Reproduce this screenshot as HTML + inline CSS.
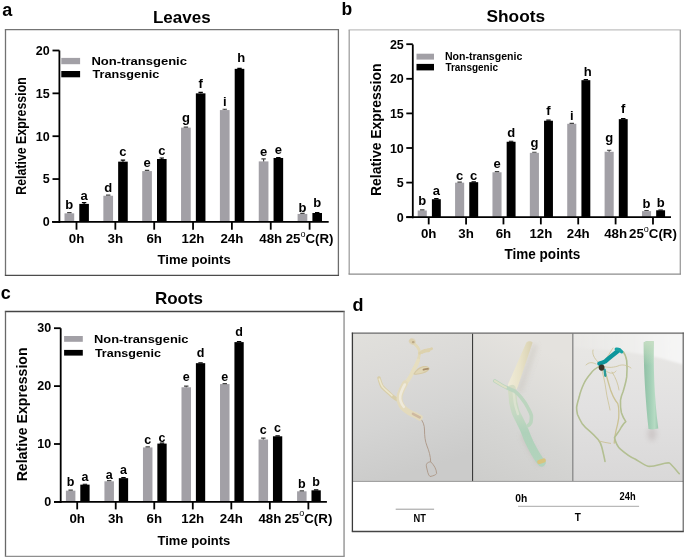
<!DOCTYPE html><html><head><meta charset="utf-8"><title>Figure</title><style>html,body{margin:0;padding:0;background:#fff;}svg{display:block;}</style></head><body>
<svg width="685" height="558" viewBox="0 0 685 558" font-family='"Liberation Sans", sans-serif'>
<rect width="685" height="558" fill="#fff"/>
<text x="2.2" y="16" font-size="18" text-anchor="start" font-weight="bold" fill="#000" >a</text>
<text x="341.5" y="14.7" font-size="17.5" text-anchor="start" font-weight="bold" fill="#000" >b</text>
<text x="0.8" y="299.3" font-size="18" text-anchor="start" font-weight="bold" fill="#000" >c</text>
<text x="352.6" y="310.8" font-size="18" text-anchor="start" font-weight="bold" fill="#000" >d</text>
<path d="M4.85 29.6H339.04999999999995" stroke="#747474" stroke-width="1.3"/>
<path d="M5.5 29.6V275.4" stroke="#727272" stroke-width="1.3"/>
<path d="M338.4 29.6V275.4" stroke="#6c6c6c" stroke-width="1.3"/>
<path d="M4.85 275.4H339.04999999999995" stroke="#4c4c4c" stroke-width="1.3"/>
<text x="181.8" y="23.3" font-size="17" text-anchor="middle" font-weight="bold" fill="#000" >Leaves</text>
<rect x="64.50" y="213.33" width="9.70" height="8.57" fill="#a2a0a6"/>
<rect x="79.30" y="203.90" width="9.60" height="18.00" fill="#000"/>
<path d="M67.15 212.53H71.55M69.35 212.53V213.33" stroke="#444" stroke-width="1.2" fill="none"/>
<path d="M81.90 202.70H86.30M84.10 202.70V203.90" stroke="#000" stroke-width="1.2" fill="none"/>
<text x="69.35" y="209.40" font-size="13" text-anchor="middle" font-weight="bold" fill="#000" >b</text>
<text x="84.10" y="199.70" font-size="13" text-anchor="middle" font-weight="bold" fill="#000" >a</text>
<rect x="103.35" y="195.76" width="9.70" height="26.14" fill="#a2a0a6"/>
<rect x="118.15" y="161.65" width="9.60" height="60.25" fill="#000"/>
<path d="M106.00 195.16H110.40M108.20 195.16V195.76" stroke="#444" stroke-width="1.2" fill="none"/>
<path d="M120.75 160.05H125.15M122.95 160.05V161.65" stroke="#000" stroke-width="1.2" fill="none"/>
<text x="108.20" y="191.70" font-size="13" text-anchor="middle" font-weight="bold" fill="#000" >d</text>
<text x="122.95" y="155.70" font-size="13" text-anchor="middle" font-weight="bold" fill="#000" >c</text>
<rect x="142.20" y="171.08" width="9.70" height="50.82" fill="#a2a0a6"/>
<rect x="157.00" y="159.00" width="9.60" height="62.90" fill="#000"/>
<path d="M144.85 170.28H149.25M147.05 170.28V171.08" stroke="#444" stroke-width="1.2" fill="none"/>
<path d="M159.60 158.00H164.00M161.80 158.00V159.00" stroke="#000" stroke-width="1.2" fill="none"/>
<text x="147.05" y="167.00" font-size="13" text-anchor="middle" font-weight="bold" fill="#000" >e</text>
<text x="161.80" y="155.30" font-size="13" text-anchor="middle" font-weight="bold" fill="#000" >c</text>
<rect x="181.05" y="127.63" width="9.70" height="94.27" fill="#a2a0a6"/>
<rect x="195.85" y="93.35" width="9.60" height="128.55" fill="#000"/>
<path d="M183.70 127.03H188.10M185.90 127.03V127.63" stroke="#444" stroke-width="1.2" fill="none"/>
<path d="M198.45 92.35H202.85M200.65 92.35V93.35" stroke="#000" stroke-width="1.2" fill="none"/>
<text x="185.90" y="121.50" font-size="13" text-anchor="middle" font-weight="bold" fill="#000" >g</text>
<text x="200.65" y="87.50" font-size="13" text-anchor="middle" font-weight="bold" fill="#000" >f</text>
<rect x="219.90" y="110.06" width="9.70" height="111.84" fill="#a2a0a6"/>
<rect x="234.70" y="68.84" width="9.60" height="153.06" fill="#000"/>
<path d="M222.55 109.26H226.95M224.75 109.26V110.06" stroke="#444" stroke-width="1.2" fill="none"/>
<path d="M237.30 68.34H241.70M239.50 68.34V68.84" stroke="#000" stroke-width="1.2" fill="none"/>
<text x="224.75" y="106.00" font-size="13" text-anchor="middle" font-weight="bold" fill="#000" >i</text>
<text x="241.30" y="62.40" font-size="13" text-anchor="middle" font-weight="bold" fill="#000" >h</text>
<rect x="258.75" y="161.40" width="9.70" height="60.50" fill="#a2a0a6"/>
<rect x="273.55" y="157.97" width="9.60" height="63.93" fill="#000"/>
<path d="M261.40 158.90H265.80M263.60 158.90V161.40" stroke="#444" stroke-width="1.2" fill="none"/>
<path d="M276.15 157.57H280.55M278.35 157.57V157.97" stroke="#000" stroke-width="1.2" fill="none"/>
<text x="263.60" y="156.30" font-size="13" text-anchor="middle" font-weight="bold" fill="#000" >e</text>
<text x="278.35" y="154.20" font-size="13" text-anchor="middle" font-weight="bold" fill="#000" >e</text>
<rect x="297.60" y="213.93" width="9.70" height="7.97" fill="#a2a0a6"/>
<rect x="312.40" y="212.99" width="9.60" height="8.91" fill="#000"/>
<path d="M300.25 213.33H304.65M302.45 213.33V213.93" stroke="#444" stroke-width="1.2" fill="none"/>
<path d="M315.00 212.59H319.40M317.20 212.59V212.99" stroke="#000" stroke-width="1.2" fill="none"/>
<text x="302.45" y="211.50" font-size="13" text-anchor="middle" font-weight="bold" fill="#000" >b</text>
<text x="317.20" y="206.80" font-size="13" text-anchor="middle" font-weight="bold" fill="#000" >b</text>
<path d="M59.4 50.6V222.9M52 221.9H328.7" stroke="#000" stroke-width="1.8" fill="none"/>
<path d="M52.5 221.90H59.4" stroke="#000" stroke-width="1.8"/>
<text x="49.6" y="226.20" font-size="12.5" text-anchor="end" font-weight="bold" fill="#000" >0</text>
<path d="M52.5 179.05H59.4" stroke="#000" stroke-width="1.8"/>
<text x="49.6" y="183.35" font-size="12.5" text-anchor="end" font-weight="bold" fill="#000" >5</text>
<path d="M52.5 136.20H59.4" stroke="#000" stroke-width="1.8"/>
<text x="49.6" y="140.50" font-size="12.5" text-anchor="end" font-weight="bold" fill="#000" >10</text>
<path d="M52.5 93.35H59.4" stroke="#000" stroke-width="1.8"/>
<text x="49.6" y="97.65" font-size="12.5" text-anchor="end" font-weight="bold" fill="#000" >15</text>
<path d="M52.5 50.50H59.4" stroke="#000" stroke-width="1.8"/>
<text x="49.6" y="54.80" font-size="12.5" text-anchor="end" font-weight="bold" fill="#000" >20</text>
<path d="M76.50 221.9V229.70000000000002" stroke="#000" stroke-width="1.8"/>
<text x="76.50" y="243" font-size="13.3" text-anchor="middle" font-weight="bold" fill="#000" >0h</text>
<path d="M115.35 221.9V229.70000000000002" stroke="#000" stroke-width="1.8"/>
<text x="115.35" y="243" font-size="13.3" text-anchor="middle" font-weight="bold" fill="#000" >3h</text>
<path d="M154.20 221.9V229.70000000000002" stroke="#000" stroke-width="1.8"/>
<text x="154.20" y="243" font-size="13.3" text-anchor="middle" font-weight="bold" fill="#000" >6h</text>
<path d="M193.05 221.9V229.70000000000002" stroke="#000" stroke-width="1.8"/>
<text x="193.05" y="243" font-size="13.3" text-anchor="middle" font-weight="bold" fill="#000" >12h</text>
<path d="M231.90 221.9V229.70000000000002" stroke="#000" stroke-width="1.8"/>
<text x="231.90" y="243" font-size="13.3" text-anchor="middle" font-weight="bold" fill="#000" >24h</text>
<path d="M270.75 221.9V229.70000000000002" stroke="#000" stroke-width="1.8"/>
<text x="270.75" y="243" font-size="13.3" text-anchor="middle" font-weight="bold" fill="#000" >48h</text>
<path d="M309.60 221.9V229.70000000000002" stroke="#000" stroke-width="1.8"/>
<text x="309.60" y="243" font-size="13.3" text-anchor="middle" font-weight="bold" fill="#000" >25<tspan font-size="9" font-weight="normal" dy="-6.5">o</tspan><tspan dy="6.5">C(R)</tspan></text>
<text x="194.1" y="263.9" font-size="12.3" text-anchor="middle" font-weight="bold" fill="#000" textLength="73.2" lengthAdjust="spacingAndGlyphs">Time points</text>
<text transform="translate(26.2 136) rotate(-90)" x="0" y="0" font-size="13.8" text-anchor="middle" font-weight="bold" textLength="117.6" lengthAdjust="spacingAndGlyphs">Relative Expression</text>
<rect x="61.3" y="57.9" width="18.799999999999997" height="6.300000000000004" fill="#a2a0a6"/>
<rect x="61.3" y="71" width="18.799999999999997" height="6.299999999999997" fill="#000"/>
<text x="91.4" y="64.8" font-size="11.4" text-anchor="start" font-weight="bold" fill="#000" textLength="95.6" lengthAdjust="spacingAndGlyphs">Non-transgenic</text>
<text x="92.6" y="78.1" font-size="11.4" text-anchor="start" font-weight="bold" fill="#000" textLength="66.6" lengthAdjust="spacingAndGlyphs">Transgenic</text>
<path d="M348.55 29.9H680.9499999999999" stroke="#c0c0c0" stroke-width="1.3"/>
<path d="M349.2 29.9V274.2" stroke="#a0a0a0" stroke-width="1.3"/>
<path d="M680.3 29.9V274.2" stroke="#9c9c9c" stroke-width="1.3"/>
<path d="M348.55 274.2H680.9499999999999" stroke="#8c8c8c" stroke-width="1.3"/>
<text x="515.8" y="22.3" font-size="17.3" text-anchor="middle" font-weight="bold" fill="#000" >Shoots</text>
<rect x="417.70" y="210.49" width="9.10" height="6.71" fill="#a2a0a6"/>
<rect x="431.90" y="199.21" width="8.90" height="17.99" fill="#000"/>
<path d="M420.05 209.89H424.45M422.25 209.89V210.49" stroke="#444" stroke-width="1.2" fill="none"/>
<path d="M434.15 198.71H438.55M436.35 198.71V199.21" stroke="#000" stroke-width="1.2" fill="none"/>
<text x="422.25" y="205.00" font-size="13" text-anchor="middle" font-weight="bold" fill="#000" >b</text>
<text x="436.35" y="194.90" font-size="13" text-anchor="middle" font-weight="bold" fill="#000" >a</text>
<rect x="455.08" y="182.67" width="9.10" height="34.53" fill="#a2a0a6"/>
<rect x="469.28" y="182.18" width="8.90" height="35.02" fill="#000"/>
<path d="M457.43 182.07H461.83M459.63 182.07V182.67" stroke="#444" stroke-width="1.2" fill="none"/>
<path d="M471.53 181.78H475.93M473.73 181.78V182.18" stroke="#000" stroke-width="1.2" fill="none"/>
<text x="459.63" y="179.70" font-size="13" text-anchor="middle" font-weight="bold" fill="#000" >c</text>
<text x="473.73" y="179.70" font-size="13" text-anchor="middle" font-weight="bold" fill="#000" >c</text>
<rect x="492.46" y="172.29" width="9.10" height="44.91" fill="#a2a0a6"/>
<rect x="506.66" y="141.77" width="8.90" height="75.43" fill="#000"/>
<path d="M494.81 171.69H499.21M497.01 171.69V172.29" stroke="#444" stroke-width="1.2" fill="none"/>
<path d="M508.91 141.27H513.31M511.11 141.27V141.77" stroke="#000" stroke-width="1.2" fill="none"/>
<text x="497.01" y="167.70" font-size="13" text-anchor="middle" font-weight="bold" fill="#000" >e</text>
<text x="511.11" y="136.80" font-size="13" text-anchor="middle" font-weight="bold" fill="#000" >d</text>
<rect x="529.84" y="152.84" width="9.10" height="64.36" fill="#a2a0a6"/>
<rect x="544.04" y="120.74" width="8.90" height="96.46" fill="#000"/>
<path d="M532.19 152.24H536.59M534.39 152.24V152.84" stroke="#444" stroke-width="1.2" fill="none"/>
<path d="M546.29 120.14H550.69M548.49 120.14V120.74" stroke="#000" stroke-width="1.2" fill="none"/>
<text x="534.39" y="146.50" font-size="13" text-anchor="middle" font-weight="bold" fill="#000" >g</text>
<text x="548.49" y="115.10" font-size="13" text-anchor="middle" font-weight="bold" fill="#000" >f</text>
<rect x="567.22" y="123.78" width="9.10" height="93.42" fill="#a2a0a6"/>
<rect x="581.42" y="80.18" width="8.90" height="137.02" fill="#000"/>
<path d="M569.57 123.28H573.97M571.77 123.28V123.78" stroke="#444" stroke-width="1.2" fill="none"/>
<path d="M583.67 79.68H588.07M585.87 79.68V80.18" stroke="#000" stroke-width="1.2" fill="none"/>
<text x="571.77" y="120.00" font-size="13" text-anchor="middle" font-weight="bold" fill="#000" >i</text>
<text x="587.67" y="75.90" font-size="13" text-anchor="middle" font-weight="bold" fill="#000" >h</text>
<rect x="604.60" y="151.74" width="9.10" height="65.46" fill="#a2a0a6"/>
<rect x="618.80" y="119.14" width="8.90" height="98.06" fill="#000"/>
<path d="M606.95 150.24H611.35M609.15 150.24V151.74" stroke="#444" stroke-width="1.2" fill="none"/>
<path d="M621.05 118.54H625.45M623.25 118.54V119.14" stroke="#000" stroke-width="1.2" fill="none"/>
<text x="609.15" y="142.40" font-size="13" text-anchor="middle" font-weight="bold" fill="#000" >g</text>
<text x="623.25" y="112.50" font-size="13" text-anchor="middle" font-weight="bold" fill="#000" >f</text>
<rect x="641.98" y="211.11" width="9.10" height="6.09" fill="#a2a0a6"/>
<rect x="656.18" y="210.28" width="8.90" height="6.92" fill="#000"/>
<path d="M644.33 210.51H648.73M646.53 210.51V211.11" stroke="#444" stroke-width="1.2" fill="none"/>
<path d="M658.43 209.98H662.83M660.63 209.98V210.28" stroke="#000" stroke-width="1.2" fill="none"/>
<text x="646.53" y="208.00" font-size="13" text-anchor="middle" font-weight="bold" fill="#000" >b</text>
<text x="660.63" y="207.20" font-size="13" text-anchor="middle" font-weight="bold" fill="#000" >b</text>
<path d="M412.8 44.4V218.2M406.3 217.2H671" stroke="#000" stroke-width="1.8" fill="none"/>
<path d="M406.3 217.20H412.8" stroke="#000" stroke-width="1.8"/>
<text x="403.8" y="221.80" font-size="12.5" text-anchor="end" font-weight="bold" fill="#000" >0</text>
<path d="M406.3 182.60H412.8" stroke="#000" stroke-width="1.8"/>
<text x="403.8" y="187.20" font-size="12.5" text-anchor="end" font-weight="bold" fill="#000" >5</text>
<path d="M406.3 148.00H412.8" stroke="#000" stroke-width="1.8"/>
<text x="403.8" y="152.60" font-size="12.5" text-anchor="end" font-weight="bold" fill="#000" >10</text>
<path d="M406.3 113.40H412.8" stroke="#000" stroke-width="1.8"/>
<text x="403.8" y="118.00" font-size="12.5" text-anchor="end" font-weight="bold" fill="#000" >15</text>
<path d="M406.3 78.80H412.8" stroke="#000" stroke-width="1.8"/>
<text x="403.8" y="83.40" font-size="12.5" text-anchor="end" font-weight="bold" fill="#000" >20</text>
<path d="M406.3 44.20H412.8" stroke="#000" stroke-width="1.8"/>
<text x="403.8" y="48.80" font-size="12.5" text-anchor="end" font-weight="bold" fill="#000" >25</text>
<path d="M428.70 217.2V224.39999999999998" stroke="#000" stroke-width="1.8"/>
<text x="428.70" y="238" font-size="13.3" text-anchor="middle" font-weight="bold" fill="#000" >0h</text>
<path d="M466.08 217.2V224.39999999999998" stroke="#000" stroke-width="1.8"/>
<text x="466.08" y="238" font-size="13.3" text-anchor="middle" font-weight="bold" fill="#000" >3h</text>
<path d="M503.46 217.2V224.39999999999998" stroke="#000" stroke-width="1.8"/>
<text x="503.46" y="238" font-size="13.3" text-anchor="middle" font-weight="bold" fill="#000" >6h</text>
<path d="M540.84 217.2V224.39999999999998" stroke="#000" stroke-width="1.8"/>
<text x="540.84" y="238" font-size="13.3" text-anchor="middle" font-weight="bold" fill="#000" >12h</text>
<path d="M578.22 217.2V224.39999999999998" stroke="#000" stroke-width="1.8"/>
<text x="578.22" y="238" font-size="13.3" text-anchor="middle" font-weight="bold" fill="#000" >24h</text>
<path d="M615.60 217.2V224.39999999999998" stroke="#000" stroke-width="1.8"/>
<text x="615.60" y="238" font-size="13.3" text-anchor="middle" font-weight="bold" fill="#000" >48h</text>
<path d="M652.98 217.2V224.39999999999998" stroke="#000" stroke-width="1.8"/>
<text x="652.98" y="238" font-size="13.3" text-anchor="middle" font-weight="bold" fill="#000" >25<tspan font-size="9" font-weight="normal" dy="-6.5">o</tspan><tspan dy="6.5">C(R)</tspan></text>
<text x="542.35" y="258.6" font-size="14" text-anchor="middle" font-weight="bold" fill="#000" textLength="75.7" lengthAdjust="spacingAndGlyphs">Time points</text>
<text transform="translate(380.5 129.8) rotate(-90)" x="0" y="0" font-size="14.6" text-anchor="middle" font-weight="bold" textLength="132.5" lengthAdjust="spacingAndGlyphs">Relative Expression</text>
<rect x="416.5" y="53.7" width="17.5" height="5.899999999999999" fill="#a2a0a6"/>
<rect x="416.5" y="63.9" width="17.5" height="6.500000000000007" fill="#000"/>
<text x="444.9" y="60.1" font-size="11" text-anchor="start" font-weight="bold" fill="#000" textLength="77.4" lengthAdjust="spacingAndGlyphs">Non-transgenic</text>
<text x="445.4" y="70.7" font-size="11" text-anchor="start" font-weight="bold" fill="#000" textLength="52.6" lengthAdjust="spacingAndGlyphs">Transgenic</text>
<path d="M4.85 311.5H344.7" stroke="#444444" stroke-width="1.3"/>
<path d="M5.5 311.5V556.3" stroke="#686868" stroke-width="1.3"/>
<path d="M344.05 311.5V556.3" stroke="#8a8a8a" stroke-width="1.3"/>
<path d="M4.85 556.3H344.7" stroke="#8e8e8e" stroke-width="1.3"/>
<text x="179" y="304" font-size="17" text-anchor="middle" font-weight="bold" fill="#000" >Roots</text>
<rect x="65.90" y="490.67" width="9.50" height="11.23" fill="#a2a0a6"/>
<rect x="80.30" y="484.65" width="9.30" height="17.25" fill="#000"/>
<path d="M68.45 490.07H72.85M70.65 490.07V490.67" stroke="#444" stroke-width="1.2" fill="none"/>
<path d="M82.75 484.25H87.15M84.95 484.25V484.65" stroke="#000" stroke-width="1.2" fill="none"/>
<text x="70.65" y="486.10" font-size="12.5" text-anchor="middle" font-weight="bold" fill="#000" >b</text>
<text x="84.95" y="481.30" font-size="12.5" text-anchor="middle" font-weight="bold" fill="#000" >a</text>
<rect x="104.43" y="481.29" width="9.50" height="20.61" fill="#a2a0a6"/>
<rect x="118.83" y="478.16" width="9.30" height="23.74" fill="#000"/>
<path d="M106.98 480.69H111.38M109.18 480.69V481.29" stroke="#444" stroke-width="1.2" fill="none"/>
<path d="M121.28 477.66H125.68M123.48 477.66V478.16" stroke="#000" stroke-width="1.2" fill="none"/>
<text x="109.18" y="478.50" font-size="12.5" text-anchor="middle" font-weight="bold" fill="#000" >a</text>
<text x="123.48" y="474.00" font-size="12.5" text-anchor="middle" font-weight="bold" fill="#000" >a</text>
<rect x="142.96" y="447.42" width="9.50" height="54.48" fill="#a2a0a6"/>
<rect x="157.36" y="443.59" width="9.30" height="58.31" fill="#000"/>
<path d="M145.51 446.82H149.91M147.71 446.82V447.42" stroke="#444" stroke-width="1.2" fill="none"/>
<path d="M159.81 443.19H164.21M162.01 443.19V443.59" stroke="#000" stroke-width="1.2" fill="none"/>
<text x="147.71" y="444.20" font-size="12.5" text-anchor="middle" font-weight="bold" fill="#000" >c</text>
<text x="162.01" y="442.40" font-size="12.5" text-anchor="middle" font-weight="bold" fill="#000" >c</text>
<rect x="181.49" y="387.26" width="9.50" height="114.64" fill="#a2a0a6"/>
<rect x="195.89" y="363.17" width="9.30" height="138.73" fill="#000"/>
<path d="M184.04 386.06H188.44M186.24 386.06V387.26" stroke="#444" stroke-width="1.2" fill="none"/>
<path d="M198.34 362.77H202.74M200.54 362.77V363.17" stroke="#000" stroke-width="1.2" fill="none"/>
<text x="186.24" y="381.00" font-size="12.5" text-anchor="middle" font-weight="bold" fill="#000" >e</text>
<text x="200.54" y="357.10" font-size="12.5" text-anchor="middle" font-weight="bold" fill="#000" >d</text>
<rect x="220.02" y="384.07" width="9.50" height="117.83" fill="#a2a0a6"/>
<rect x="234.42" y="342.10" width="9.30" height="159.80" fill="#000"/>
<path d="M222.57 383.57H226.97M224.77 383.57V384.07" stroke="#444" stroke-width="1.2" fill="none"/>
<path d="M236.87 341.50H241.27M239.07 341.50V342.10" stroke="#000" stroke-width="1.2" fill="none"/>
<text x="224.77" y="381.00" font-size="12.5" text-anchor="middle" font-weight="bold" fill="#000" >e</text>
<text x="239.07" y="335.60" font-size="12.5" text-anchor="middle" font-weight="bold" fill="#000" >d</text>
<rect x="258.55" y="439.48" width="9.50" height="62.42" fill="#a2a0a6"/>
<rect x="272.95" y="436.30" width="9.30" height="65.60" fill="#000"/>
<path d="M261.10 438.18H265.50M263.30 438.18V439.48" stroke="#444" stroke-width="1.2" fill="none"/>
<path d="M275.40 435.90H279.80M277.60 435.90V436.30" stroke="#000" stroke-width="1.2" fill="none"/>
<text x="263.30" y="434.40" font-size="12.5" text-anchor="middle" font-weight="bold" fill="#000" >c</text>
<text x="277.60" y="432.40" font-size="12.5" text-anchor="middle" font-weight="bold" fill="#000" >c</text>
<rect x="297.08" y="491.30" width="9.50" height="10.60" fill="#a2a0a6"/>
<rect x="311.48" y="490.32" width="9.30" height="11.58" fill="#000"/>
<path d="M299.63 490.80H304.03M301.83 490.80V491.30" stroke="#444" stroke-width="1.2" fill="none"/>
<path d="M313.93 489.92H318.33M316.13 489.92V490.32" stroke="#000" stroke-width="1.2" fill="none"/>
<text x="301.83" y="488.10" font-size="12.5" text-anchor="middle" font-weight="bold" fill="#000" >b</text>
<text x="316.13" y="486.30" font-size="12.5" text-anchor="middle" font-weight="bold" fill="#000" >b</text>
<path d="M60.7 328.2V502.9M54 501.9H326.9" stroke="#000" stroke-width="1.8" fill="none"/>
<path d="M54 501.90H60.7" stroke="#000" stroke-width="1.8"/>
<text x="51.2" y="506.10" font-size="12.5" text-anchor="end" font-weight="bold" fill="#000" >0</text>
<path d="M54 444.00H60.7" stroke="#000" stroke-width="1.8"/>
<text x="51.2" y="448.20" font-size="12.5" text-anchor="end" font-weight="bold" fill="#000" >10</text>
<path d="M54 386.10H60.7" stroke="#000" stroke-width="1.8"/>
<text x="51.2" y="390.30" font-size="12.5" text-anchor="end" font-weight="bold" fill="#000" >20</text>
<path d="M54 328.20H60.7" stroke="#000" stroke-width="1.8"/>
<text x="51.2" y="332.40" font-size="12.5" text-anchor="end" font-weight="bold" fill="#000" >30</text>
<path d="M77.20 501.9V509.4" stroke="#000" stroke-width="1.8"/>
<text x="77.20" y="522.7" font-size="13.3" text-anchor="middle" font-weight="bold" fill="#000" >0h</text>
<path d="M115.73 501.9V509.4" stroke="#000" stroke-width="1.8"/>
<text x="115.73" y="522.7" font-size="13.3" text-anchor="middle" font-weight="bold" fill="#000" >3h</text>
<path d="M154.26 501.9V509.4" stroke="#000" stroke-width="1.8"/>
<text x="154.26" y="522.7" font-size="13.3" text-anchor="middle" font-weight="bold" fill="#000" >6h</text>
<path d="M192.79 501.9V509.4" stroke="#000" stroke-width="1.8"/>
<text x="192.79" y="522.7" font-size="13.3" text-anchor="middle" font-weight="bold" fill="#000" >12h</text>
<path d="M231.32 501.9V509.4" stroke="#000" stroke-width="1.8"/>
<text x="231.32" y="522.7" font-size="13.3" text-anchor="middle" font-weight="bold" fill="#000" >24h</text>
<path d="M269.85 501.9V509.4" stroke="#000" stroke-width="1.8"/>
<text x="269.85" y="522.7" font-size="13.3" text-anchor="middle" font-weight="bold" fill="#000" >48h</text>
<path d="M308.38 501.9V509.4" stroke="#000" stroke-width="1.8"/>
<text x="308.38" y="522.7" font-size="13.3" text-anchor="middle" font-weight="bold" fill="#000" >25<tspan font-size="9" font-weight="normal" dy="-6.5">o</tspan><tspan dy="6.5">C(R)</tspan></text>
<text x="193.9" y="544.7" font-size="12.3" text-anchor="middle" font-weight="bold" fill="#000" textLength="72.7" lengthAdjust="spacingAndGlyphs">Time points</text>
<text transform="translate(27.1 414.4) rotate(-90)" x="0" y="0" font-size="15.2" text-anchor="middle" font-weight="bold" textLength="133.8" lengthAdjust="spacingAndGlyphs">Relative Expression</text>
<rect x="64.1" y="336" width="18.700000000000003" height="5.800000000000011" fill="#a2a0a6"/>
<rect x="64.1" y="349.9" width="18.700000000000003" height="5.7000000000000455" fill="#000"/>
<text x="94" y="342.8" font-size="11.4" text-anchor="start" font-weight="bold" fill="#000" textLength="94.5" lengthAdjust="spacingAndGlyphs">Non-transgenic</text>
<text x="94.9" y="356.8" font-size="11.4" text-anchor="start" font-weight="bold" fill="#000" textLength="66" lengthAdjust="spacingAndGlyphs">Transgenic</text>
<defs>
<linearGradient id="bg1" x1="0" y1="0" x2="0.25" y2="1"><stop offset="0" stop-color="#e1e0dc"/><stop offset="0.35" stop-color="#dbdad8"/><stop offset="0.65" stop-color="#d4d4d3"/><stop offset="1" stop-color="#cbcbca"/></linearGradient>
<linearGradient id="bg2" x1="0.3" y1="0" x2="0" y2="1"><stop offset="0" stop-color="#e4e2de"/><stop offset="0.3" stop-color="#dddcd9"/><stop offset="0.55" stop-color="#d6d6d4"/><stop offset="1" stop-color="#cdcdcb"/></linearGradient>
<linearGradient id="bg3" x1="0" y1="0" x2="0" y2="1"><stop offset="0" stop-color="#e9e8e5"/><stop offset="0.5" stop-color="#e2e1e1"/><stop offset="1" stop-color="#d9d8d8"/></linearGradient>
<linearGradient id="cyl" x1="0" y1="0" x2="1" y2="0"><stop offset="0" stop-color="#8fc0a5"/><stop offset="0.45" stop-color="#a3cfb6"/><stop offset="0.75" stop-color="#b6dbc3"/><stop offset="1" stop-color="#9cc8b0"/></linearGradient>
<linearGradient id="cyltop" x1="0" y1="0" x2="0" y2="1"><stop offset="0" stop-color="#c9dfc4" stop-opacity="0.9"/><stop offset="1" stop-color="#c9dfc4" stop-opacity="0"/></linearGradient>
<filter id="soft" x="-20%" y="-20%" width="140%" height="140%"><feGaussianBlur stdDeviation="0.5"/></filter>
<filter id="shad" x="-50%" y="-50%" width="200%" height="200%"><feGaussianBlur stdDeviation="2.5"/></filter>
</defs>
<g id="pd">
<rect x="353" y="333.5" width="119.5" height="148" fill="url(#bg1)"/>
<rect x="473" y="333.5" width="99.6" height="148" fill="url(#bg2)"/>
<rect x="573.2" y="333.5" width="110" height="148" fill="url(#bg3)"/>
<linearGradient id="wr" x1="0" y1="0" x2="1" y2="0"><stop offset="0" stop-color="#f0efed" stop-opacity="0.15"/><stop offset="0.5" stop-color="#f3f3f2" stop-opacity="0.6"/><stop offset="0.75" stop-color="#f4f4f3" stop-opacity="0.9"/><stop offset="1" stop-color="#f6f6f6" stop-opacity="1"/></linearGradient>
<filter id="blur15" x="-10%" y="-10%" width="120%" height="120%"><feGaussianBlur stdDeviation="1.2"/></filter>
<path d="M573.2 333.5H683.2V364.5L660 358L640 354L620 351L573.2 347Z" fill="url(#wr)" filter="url(#blur15)"/>
<path d="M472.6 333.5V481.3" stroke="#2a2a2a" stroke-width="1"/>
<path d="M572.8 333.5V481.3" stroke="#8a8a8a" stroke-width="1.4"/>
<path d="M353 481.4H683.2" stroke="#9a9a9a" stroke-width="1"/>
<g filter="url(#soft)" stroke-linecap="round" stroke-linejoin="round" fill="none">
<path d="M419.7 417.6C423 421 424.5 425 424.5 430C424.6 436 425 441 427 446C429 451 430.5 456 430.7 461.8C428 462 425.5 463.5 426.5 467C427.5 471 428 475 430 476.5C433 476 436 475 436.6 473.5C436.5 469 434 465 430.7 461.8" stroke="#ac9686" stroke-width="0.9"/>
<path d="M379 378C380 381 380.5 384 382 386.5C385 390 389 393 392 396C394.5 398 396.5 399.5 399 400.5" stroke="#d8cea9" stroke-width="3.6"/>
<path d="M379.3 379C380.3 382 381 384.5 382.5 386.8C385.5 390 389 393 392 395.6" stroke="#ece6cc" stroke-width="1.6"/>
<path d="M414.6 344.2C417.5 346.5 419.4 349 419.6 352.5C419.4 356 418.8 358 418.1 360.5C417 363.5 416.3 365 415.4 366.5C413.5 370 412 373 410.7 376C408.5 380 406 383 403.9 385.4" stroke="#e2d9b8" stroke-width="2.8"/>
<path d="M418.1 360.5C417 363.5 416.3 365 415.4 366.5C413.5 370 412 373 410.7 376C408.5 380 406 383 403.9 385.4" stroke="#e6dec0" stroke-width="3.8"/>
<path d="M405 383.5C402.5 388 400.5 392 399.6 396C399 400 400 404 403.5 408C407 411.5 412 414 416 415.5L419.7 417.6" stroke="#e3dabc" stroke-width="6"/>
<path d="M404.8 384.5C402.6 388.5 400.9 392 400.2 396C399.8 399.5 400.7 403 403.8 406.8" stroke="#efeadb" stroke-width="2.6"/>
<path d="M413 413.8C415.5 415 417.5 416 419.7 417.4" stroke="#cfb9a0" stroke-width="2.6"/>
<path d="M419.6 353.2C422 352 424 351 426 350.6C428 350 430 349.4 431.6 348.8" stroke="#dcd1ad" stroke-width="2.8"/>
<path d="M422.5 351.8C424.5 350.4 426.5 350.2 428.5 350.3" stroke="#ddd2ae" stroke-width="3.8"/>
<path d="M414 374C416 370.5 419.5 367.5 423.5 366.6C426.5 366.1 428.6 367 429.2 368.6C427.5 371.2 424 373 419.5 373.8C417.5 374.2 415.5 374.3 414 374Z" stroke="#d6c9a4" stroke-width="1.1" fill="#e1d7b7"/>
<path d="M423.5 369.6C425.3 369 426.8 368.8 428 368.9" stroke="#a78c6a" stroke-width="1.8"/>
</g>
<ellipse cx="412.3" cy="341.4" rx="3.4" ry="2.9" transform="rotate(35 412.3 341.4)" fill="#dcd0ae" filter="url(#soft)"/>
<ellipse cx="413.2" cy="342.2" rx="1.4" ry="1.1" fill="#bca987" filter="url(#soft)"/>
<linearGradient id="stem2" gradientUnits="userSpaceOnUse" x1="0" y1="388" x2="0" y2="462"><stop offset="0" stop-color="#d6dcc4"/><stop offset="0.35" stop-color="#c3d8c2"/><stop offset="0.6" stop-color="#afd1ba"/><stop offset="1" stop-color="#b2d3bc"/></linearGradient>
<g filter="url(#soft)" stroke-linecap="round" stroke-linejoin="round" fill="none">
<path d="M534.5 347L520 390" stroke="#c4bfb7" stroke-width="6" opacity="0.4" filter="url(#shad)"/>
<linearGradient id="col2" x1="0" y1="0" x2="1" y2="0"><stop offset="0" stop-color="#efebd8"/><stop offset="0.5" stop-color="#e8e2c8"/><stop offset="1" stop-color="#d8d0b0"/></linearGradient>
<path d="M526 343.2C527 341 531 340.6 532.6 342.4L518.5 384.5L516.8 389L508 388L508.1 384Z" fill="url(#col2)" stroke="none"/>
<path d="M540 463C535 455 528 445 524 436" stroke="#bdb6ae" stroke-width="6" opacity="0.45" filter="url(#shad)"/>
<path d="M511.8 389C512.5 394 513.1 398 513.1 401.9C514 406 515 410 515.8 412.6C518 417 519.5 420 521.2 423.4C523 427 524.5 430 525.5 433C528 440 531 446 535 453C538 458 540 461 541.6 462.5" stroke="url(#stem2)" stroke-width="8.2"/>
<path d="M513.6 392C514.2 397 514.6 401 515 404C516 408 517 411 518 414" stroke="#dfe4d2" stroke-width="2.4" opacity="0.8"/>
<path d="M494.8 380.9C499 383.5 503 386 506.1 387.4C509 389 512 390 514.7 391.1C517 393 519.5 395.5 521.2 397.6C524 401 526 404 527.6 407.3C529.5 411 531 413.5 531.4 415.9C531.5 418 531.3 420 530.9 422.3C530 424 529 425 528.2 425.5" stroke="#bcd5bf" stroke-width="3.6"/>
<path d="M494.8 380.9C499 383.5 503 386 506 387.5" stroke="#dedfc6" stroke-width="2"/>
<path d="M539.2 461.9l4.6 -1.5" stroke="#d8c47e" stroke-width="4.2"/>
</g>
<ellipse cx="652" cy="434" rx="4.5" ry="7" fill="#b8aeae" opacity="0.45" filter="url(#shad)"/>
<path d="M643.8 342.2C646 341.2 650 340.8 653.8 341.3C653.5 365 654 395 658.3 428.6C655 429.6 651.5 429.6 648.5 429C645.5 400 643.5 370 643.8 342.2Z" fill="url(#cyl)" filter="url(#soft)"/>
<path d="M643.8 342.2C646 341.2 650 340.8 653.8 341.3C653.6 350 653.6 358 653.8 366C650 366 647 366 643.8 366C643.7 358 643.7 350 643.8 342.2Z" fill="url(#cyltop)" filter="url(#soft)"/>
<g filter="url(#soft)" stroke-linecap="round" stroke-linejoin="round" fill="none">
<path d="M599.9 366.1C596 368 593 370 590.9 373.3C587 378 585 381 583.7 384C581 390 580 393 579.3 396.6C578 401 577 404 576.6 407.3C576.5 410 577 412 577.5 414.5C579 418 580 420 582 423.4C584 426 586.5 428.5 589.1 430.6C592 433 595 436 598.1 439.6C600 442 601 444 601.7 446.7C603 452 604 456 605 461.4" stroke="#b3bf92" stroke-width="1.6"/>
<path d="M599 441C603 442 607 443 610.6 443.4" stroke="#cbc295" stroke-width="0.9"/>
<path d="M604.3 369.7C606 374 607.5 379 608.8 384C610 389 611.5 393 613.3 396.6C615 400 616.5 402 617.8 403.7C619 408 619 413 618.7 418.1C618 423 617 427 616 430.6C615 435 614.5 439 614.2 443.1" stroke="#cbc295" stroke-width="1.3"/>
<path d="M623.2 351.8C625 354 626 357 626.7 360.7C627.2 366 627.2 371 626.7 376.9C626 382 624.5 387 623.2 391.2C622 394 621 397 620.5 400.2C620.3 404 620.5 409 621.4 412.7C622.5 416 624 419 625.8 421.6C624 423 622.5 425 621.4 427C619 432 616.5 434 614.5 437.7C616 444 618 447 620.4 449.1C626 454 630 457 635 459C640 462 644 465 648 466.3C656 467 664 462 669.5 463C673 466 676 470 679.3 473.7" stroke="#b3bf92" stroke-width="1.6"/>
<path d="M598 362C594 358 592 354 593 350M603 363C608 357 610 352 613 348M600 365C606 368 612 368 618 366C622 364 627 365 631 368M596 364C592 362 589 362 586 365M606 371C610 374 614 374 616 371" stroke="#cbc295" stroke-width="0.8"/>
<path d="M601 367C603 374 605 382 606 390C607 398 609 404 610 410M612 372C616 378 618 384 619 390" stroke="#cbc295" stroke-width="0.8"/>
<path d="M618.9 350.2C614 354 609.5 357.5 605.3 361.3C603 362.5 601 363.2 599.3 363.6" stroke="#10969c" stroke-width="4.3"/>
<path d="M616.3 349.2C618 349 620 349.6 621.6 351.8" stroke="#16a2a4" stroke-width="3.4"/>
<path d="M604.6 369.6L605.3 375.7" stroke="#2a9b98" stroke-width="2.4"/>
</g>
<ellipse cx="601.6" cy="367.6" rx="2.9" ry="3.1" fill="#3a3327" filter="url(#soft)"/>
</g>
<path d="M395.7 509.2H434.1" stroke="#9a9a9a" stroke-width="1"/>
<path d="M518.1 506.3H639.1" stroke="#a8a8a8" stroke-width="1"/>
<text x="419.8" y="521.9" font-size="10.3" text-anchor="middle" font-weight="bold" fill="#000" textLength="12.4" lengthAdjust="spacingAndGlyphs">NT</text>
<text x="577.8" y="521.3" font-size="10" text-anchor="middle" font-weight="bold" fill="#000" >T</text>
<text x="515.3" y="501.9" font-size="10.5" text-anchor="start" font-weight="bold" fill="#000" textLength="12" lengthAdjust="spacingAndGlyphs">0h</text>
<text x="619.6" y="500.2" font-size="10.2" text-anchor="start" font-weight="bold" fill="#000" textLength="16" lengthAdjust="spacingAndGlyphs">24h</text>
<path d="M351.8 333.1H683.8" stroke="#666" stroke-width="1.3"/>
<path d="M352.4 332.6V531.6" stroke="#3a3a3a" stroke-width="1.3"/>
<path d="M683.2 332.6V531.6" stroke="#555" stroke-width="1.1"/>
<path d="M351.8 531.5H683.8" stroke="#444" stroke-width="1.3"/>
</svg></body></html>
